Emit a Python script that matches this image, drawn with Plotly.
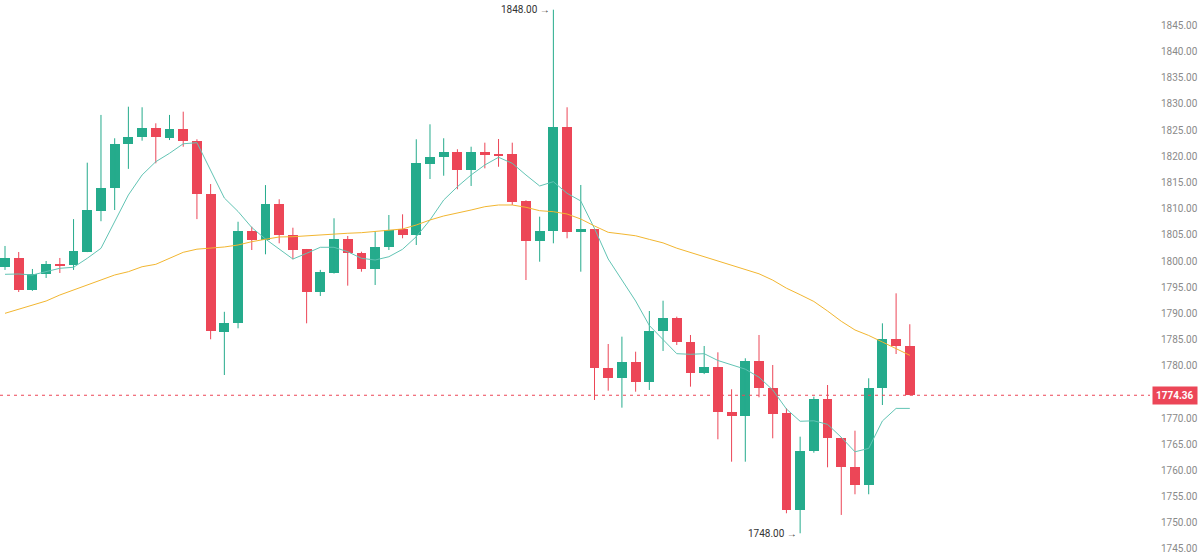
import plotly.graph_objects as go

# ---- data ----
opens = [1798.85, 1800.58, 1794.47, 1797.52, 1799.43, 1799.30, 1801.78, 1809.60, 1814.00, 1822.40,
         1823.60, 1825.35, 1823.55, 1825.27, 1822.92, 1812.74, 1786.50, 1788.10, 1805.73, 1804.01,
         1810.83, 1804.97, 1802.24, 1794.02, 1797.77, 1804.20, 1801.47, 1798.48, 1802.73, 1806.06,
         1804.97, 1818.60, 1819.81, 1820.76, 1817.38, 1820.76, 1820.50, 1820.38, 1811.46, 1803.88,
         1805.73, 1825.54, 1805.60, 1806.04, 1779.51, 1777.72, 1780.66, 1776.84, 1786.57, 1789.06,
         1784.59, 1778.55, 1779.70, 1771.10, 1770.40, 1780.90, 1775.69, 1770.92, 1752.45, 1763.77,
         1773.65, 1766.14, 1760.60, 1757.22, 1775.80, 1785.05, 1783.83]
highs = [1802.87, 1801.72, 1798.48, 1800.00, 1800.58, 1808.00, 1818.78, 1827.90, 1823.44, 1829.47,
         1829.36, 1826.30, 1827.90, 1828.52, 1823.25, 1814.70, 1790.30, 1807.50, 1806.55, 1814.50,
         1811.79, 1806.36, 1802.30, 1798.30, 1808.16, 1804.78, 1801.78, 1805.73, 1808.79, 1808.92,
         1823.25, 1826.11, 1823.44, 1821.34, 1821.83, 1822.60, 1823.30, 1822.60, 1811.60, 1808.47,
         1848.00, 1829.36, 1814.52, 1806.20, 1784.15, 1785.55, 1782.68, 1790.45, 1792.42, 1789.37,
         1785.87, 1783.77, 1782.56, 1775.50, 1781.42, 1785.87, 1780.14, 1771.87, 1766.45, 1774.09,
         1776.32, 1766.30, 1767.59, 1777.60, 1788.10, 1793.83, 1787.92]
lows = [1798.30, 1794.08, 1794.30, 1796.76, 1797.71, 1798.30, 1801.70, 1807.60, 1809.74, 1817.60,
        1822.98, 1818.66, 1823.10, 1821.83, 1808.00, 1785.05, 1778.23, 1787.15, 1802.10, 1801.28,
        1803.38, 1800.33, 1788.10, 1793.32, 1797.60, 1795.29, 1797.96, 1795.42, 1802.10, 1804.34,
        1803.06, 1815.66, 1816.29, 1813.70, 1814.33, 1817.70, 1818.00, 1810.70, 1796.37, 1799.87,
        1803.38, 1804.34, 1797.96, 1773.46, 1775.23, 1771.99, 1775.04, 1775.37, 1782.82, 1783.96,
        1776.00, 1778.40, 1765.95, 1761.67, 1761.67, 1773.97, 1766.14, 1751.82, 1748.00, 1763.39,
        1760.60, 1751.50, 1755.45, 1755.45, 1772.50, 1782.24, 1774.36]
closes = [1800.58, 1794.47, 1797.52, 1799.43, 1799.14, 1801.97, 1809.74, 1814.00, 1822.35, 1823.60,
          1825.35, 1823.60, 1825.27, 1822.92, 1812.74, 1786.63, 1788.10, 1805.73, 1804.01, 1810.83,
          1804.97, 1802.10, 1794.02, 1797.85, 1804.20, 1801.47, 1798.48, 1802.73, 1805.92, 1804.97,
          1818.66, 1819.81, 1820.76, 1817.38, 1820.76, 1820.38, 1820.20, 1811.33, 1803.88, 1805.73,
          1825.54, 1805.60, 1806.06, 1779.57, 1777.72, 1780.66, 1776.84, 1786.57, 1789.06, 1784.59,
          1778.55, 1779.70, 1771.10, 1770.40, 1780.90, 1775.69, 1770.78, 1752.45, 1763.77, 1773.65,
          1766.14, 1760.60, 1757.22, 1775.80, 1785.05, 1783.83, 1774.36]

ma_fast = [1797.46, 1797.52, 1797.33, 1797.96, 1798.61, 1798.80, 1800.52, 1802.43, 1807.51, 1812.61,
           1816.43, 1818.97, 1820.57, 1822.39, 1822.60, 1817.19, 1812.03, 1809.46, 1806.40, 1804.20,
           1802.29, 1800.38, 1801.47, 1802.62, 1802.62, 1801.78, 1800.52, 1800.19, 1800.82, 1802.24,
           1804.64, 1807.83, 1811.65, 1814.19, 1816.43, 1818.34, 1819.81, 1818.66, 1816.43, 1814.33,
           1815.15, 1812.93, 1811.46, 1806.21, 1800.38, 1796.37, 1792.36, 1787.68, 1784.92, 1782.30,
           1782.18, 1782.30, 1781.00, 1780.14, 1779.34, 1777.81, 1775.37, 1771.74, 1769.39, 1769.48,
           1768.80, 1766.33, 1763.56, 1764.21, 1769.45, 1771.85, 1771.85]
ma_slow = [1790.01, 1790.78, 1791.60, 1792.36, 1793.51, 1794.46, 1795.42, 1796.37, 1797.33, 1797.96,
           1798.91, 1799.37, 1800.52, 1801.66, 1802.26, 1802.43, 1802.68, 1803.06, 1803.69, 1804.15,
           1804.59, 1804.64, 1804.84, 1804.97, 1805.16, 1805.30, 1805.41, 1805.60, 1805.79, 1806.12,
           1806.88, 1807.83, 1808.60, 1809.11, 1809.74, 1810.37, 1810.70, 1810.70, 1810.26, 1809.61,
           1809.42, 1808.98, 1808.02, 1806.69, 1805.48, 1805.16, 1804.82, 1804.13, 1803.46, 1802.45,
           1801.63, 1800.96, 1800.08, 1799.20, 1798.38, 1797.56, 1796.35, 1794.81, 1793.57, 1792.27,
           1790.45, 1788.49, 1786.83, 1785.78, 1784.53, 1783.23, 1781.99]

last_price = 1774.36
high_mark = (40, 1848.00)
low_mark = (58, 1748.00)
# 1775.00 sits under the last-price label in the reference, so it is not listed
y_ticks = [1745, 1750, 1755, 1760, 1765, 1770, 1780, 1785, 1790, 1795, 1800,
           1805, 1810, 1815, 1820, 1825, 1830, 1835, 1840, 1845]

GREEN = "#25ab8c"
RED = "#ec4657"
TEAL = "#62c4b4"
ORANGE = "#f2b630"
FONT = "Roboto"

idx = list(range(len(opens)))

fig = go.Figure()

for is_up, color in [(True, GREEN), (False, RED)]:
    sel = [i for i in idx if (closes[i] >= opens[i]) == is_up]
    wx, wy = [], []
    for i in sel:
        wx += [i, i, None]
        wy += [lows[i], highs[i], None]
    fig.add_trace(go.Bar(
        x=sel,
        y=[abs(closes[i] - opens[i]) for i in sel],
        base=[min(opens[i], closes[i]) for i in sel],
        width=0.72, marker=dict(color=color, line=dict(width=0)),
        hoverinfo="skip", showlegend=False))
    fig.add_trace(go.Scatter(x=wx, y=wy, mode="lines",
                             line=dict(color=color, width=1),
                             hoverinfo="skip", showlegend=False))

fig.add_trace(go.Scatter(x=idx, y=ma_fast, mode="lines",
                         line=dict(color=TEAL, width=1), showlegend=False))
fig.add_trace(go.Scatter(x=idx, y=ma_slow, mode="lines",
                         line=dict(color=ORANGE, width=1), showlegend=False))

fig.add_shape(type="line", xref="paper", x0=0, x1=1, yref="y",
              y0=last_price, y1=last_price,
              line=dict(color=RED, width=1, dash="3px,4px"))

fig.add_annotation(xref="paper", x=1, xanchor="left", xshift=2,
                   yref="y", y=last_price, yanchor="middle",
                   text=f"<b>{last_price:.2f}</b>", showarrow=False,
                   bgcolor=RED, borderpad=3,
                   font=dict(family=FONT, size=10, color="white"))

for (xi, yv) in [high_mark, low_mark]:
    fig.add_annotation(x=xi, y=yv, xanchor="right", yanchor="middle", xshift=-1,
                       text=f"{yv:.2f} <b>→</b>", showarrow=False,
                       font=dict(family=FONT, size=10, color="#333333"))

fig.update_layout(
    width=1200, height=556,
    margin=dict(l=0, r=50, t=0, b=0),
    paper_bgcolor="white", plot_bgcolor="white",
    barmode="overlay", bargap=0,
    showlegend=False,
    font=dict(family=FONT),
    xaxis=dict(range=[-0.365, 83.52], visible=False, fixedrange=True),
    yaxis=dict(range=[1743.66, 1849.85], side="right", showgrid=False,
               zeroline=False, showline=False, ticks="",
               tickvals=y_ticks, ticktext=[f"{v:.2f}" for v in y_ticks],
               tickfont=dict(family=FONT, size=10, color="#8a8a8a"),
               ticklabelstandoff=10),
)

fig.write_html("out.html")
